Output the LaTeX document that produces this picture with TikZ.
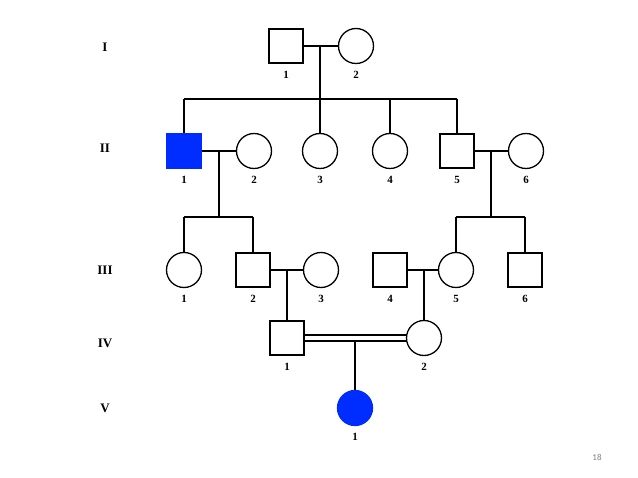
\documentclass[tikz,border=0pt]{standalone}
\usepackage{fontspec}
\setmainfont{Liberation Serif}
\newfontfamily\sans{Carlito}
\begin{document}
\begin{tikzpicture}[x=1pt,y=-1pt,line width=1.3pt,
  sq/.style={draw,minimum size=34pt,inner sep=0,shape=rectangle},
  ci/.style={draw,circle,minimum size=35pt,inner sep=0},
  aff/.style={fill=blueaff,draw=blueaff},
  lab/.style={font=\bfseries\fontsize{11}{11}\selectfont},
  gen/.style={font=\bfseries\fontsize{13}{13}\selectfont}]
\definecolor{blueaff}{RGB}{0,45,255}
\useasboundingbox (0,0) rectangle (638,478);
\foreach \t/\y [count=\i] in {I/47,II/148,III/270,IV/343,V/408}
  \node[gen] (g\i) at (105,\y) {\t};
% I
\node[sq] (a1) at (286,46) {}; \node[ci] (a2) at (356,46) {};
% II
\node[sq,aff] (b1) at (184,151) {}; \node[ci] (b2) at (254,151) {};
\node[ci] (b3) at (320,151) {}; \node[ci] (b4) at (390,151) {};
\node[sq] (b5) at (457,151) {}; \node[ci] (b6) at (526,151) {};
% III
\node[ci] (c1) at (184,270) {}; \node[sq] (c2) at (253,270) {};
\node[ci] (c3) at (321,270) {}; \node[sq] (c4) at (390,270) {};
\node[ci] (c5) at (456,270) {}; \node[sq] (c6) at (525,270) {};
% IV, V
\node[sq] (d1) at (287,338) {}; \node[ci] (d2) at (424,338) {};
\node[ci,aff] (e1) at (355,408) {};
% labels
\foreach \n/\t in {a1/1,a2/2,b1/1,b2/2,b3/3,b4/4,b5/5,b6/6,c1/1,c2/2,c3/3,c4/4,c5/5,c6/6,d1/1,d2/2,e1/1}
  \node[lab] at ([yshift=-29pt]\n.center) {\t};
% I mating and sibship
\draw (a1.east) -- (a2.west);
\coordinate (m1) at (320,46); \coordinate (s1) at (320,99);
\draw (m1) -- (s1);
\draw (b1.north |- s1) -- (b5.north |- s1);
\foreach \n in {b1,b3,b4,b5} \draw (\n.north |- s1) -- (\n.north);
% II1 x II2
\draw (b1.east) -- (b2.west);
\coordinate (m2) at (219,151); \coordinate (s2) at (219,217);
\draw (m2) -- (s2); \draw (c1.north |- s2) -- (c2.north |- s2);
\foreach \n in {c1,c2} \draw (\n.north |- s2) -- (\n.north);
% II5 x II6
\draw (b5.east) -- (b6.west);
\coordinate (m3) at (491,151); \coordinate (s3) at (491,217);
\draw (m3) -- (s3); \draw (c5.north |- s3) -- (c6.north |- s3);
\foreach \n in {c5,c6} \draw (\n.north |- s3) -- (\n.north);
% III matings
\draw (c2.east) -- (c3.west);
\coordinate (m4) at (287,270); \draw (m4) -- (d1.north);
\draw (c4.east) -- (c5.west);
\coordinate (m5) at (424,270); \draw (m5) -- (d2.north);
% consanguineous
\draw ([yshift=-3pt]d1.east) -- ([yshift=-3pt]d2.west);
\draw ([yshift=3pt]d1.east) -- ([yshift=3pt]d2.west);
\coordinate (m6) at (355,341); \draw (m6) -- (e1.north);
\node[font=\sans\fontsize{9}{9}\selectfont,text=gray] (pg) at (597,457) {18};
\end{tikzpicture}
\end{document}
